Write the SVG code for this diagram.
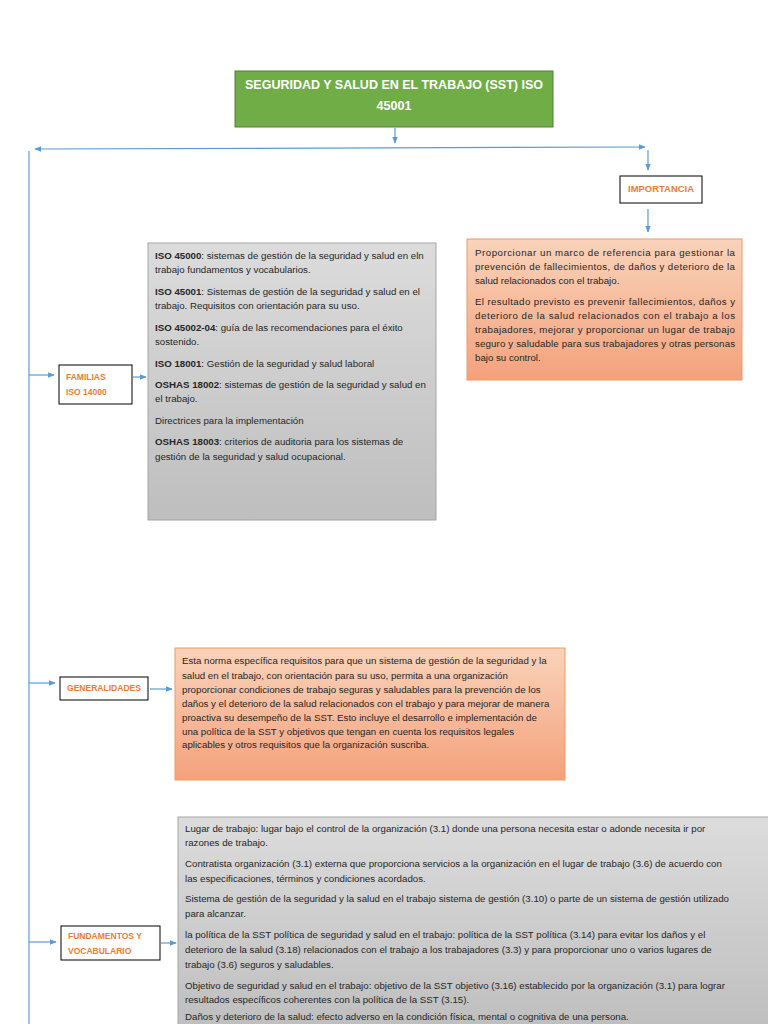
<svg xmlns="http://www.w3.org/2000/svg" width="768" height="1024" viewBox="0 0 768 1024">
<defs>
<linearGradient id="gOr" x1="0" y1="0" x2="0" y2="1"><stop offset="0" stop-color="#F9D3BA"/><stop offset="1" stop-color="#F4A17C"/></linearGradient>
<linearGradient id="gGr" x1="0" y1="0" x2="0" y2="1"><stop offset="0" stop-color="#DCDCDC"/><stop offset="1" stop-color="#BEBEBE"/></linearGradient>
<marker id="ar" viewBox="0 0 10 10" refX="9" refY="5" markerWidth="6" markerHeight="6" orient="auto-start-reverse"><path d="M0,1 L10,5 L0,9 z" fill="#5B9BD5"/></marker>
<style>
.t{font-family:"Liberation Sans",Arial,sans-serif;font-size:9.7px;fill:#262626}
.b{font-weight:bold}
.lbl{font-family:"Liberation Sans",Arial,sans-serif;font-size:8.5px;font-weight:bold;fill:#ED7D31}
.c{fill:none;stroke:#5B9BD5;stroke-width:1.2}
.lb{fill:#fff;stroke:#000;stroke-width:1}
.or{fill:url(#gOr);stroke:#ED9A6A;stroke-width:1}
.gr{fill:url(#gGr);stroke:#A5A5A5;stroke-width:1}
</style>
</defs>
<rect width="768" height="1024" fill="#fff"/>
<g id="connectors">
<line class="c" x1="395" y1="128" x2="395" y2="143" marker-end="url(#ar)"/>
<line class="c" x1="35" y1="149" x2="645" y2="147" marker-start="url(#ar)" marker-end="url(#ar)"/>
<line class="c" x1="29" y1="151" x2="29" y2="1024"/>
<line class="c" x1="648" y1="150" x2="648" y2="170" marker-end="url(#ar)"/>
<line class="c" x1="648" y1="209" x2="648" y2="232" marker-end="url(#ar)"/>
<line class="c" x1="29" y1="375" x2="54" y2="375" marker-end="url(#ar)"/>
<line class="c" x1="133" y1="377" x2="146" y2="377" marker-end="url(#ar)"/>
<line class="c" x1="29" y1="683" x2="55" y2="683" marker-end="url(#ar)"/>
<line class="c" x1="150" y1="689" x2="172" y2="689" marker-end="url(#ar)"/>
<line class="c" x1="29" y1="942" x2="56" y2="942" marker-end="url(#ar)"/>
<line class="c" x1="161" y1="943" x2="176" y2="943" marker-end="url(#ar)"/>
</g>
<g id="title">
<rect x="235" y="71" width="318" height="56" fill="#70AD47" stroke="#507E32" stroke-width="1"/>
<text x="394" y="89" text-anchor="middle" font-family="Liberation Sans, Arial, sans-serif" font-size="12.5" font-weight="bold" fill="#fff">SEGURIDAD Y SALUD EN EL TRABAJO (SST) ISO</text>
<text x="394" y="110" text-anchor="middle" font-family="Liberation Sans, Arial, sans-serif" font-size="12.5" font-weight="bold" fill="#fff">45001</text>
</g>
<g id="importancia">
<rect class="lb" x="620" y="176" width="82" height="27"/>
<text class="lbl" x="661" y="192" text-anchor="middle" textLength="66" lengthAdjust="spacingAndGlyphs">IMPORTANCIA</text>
</g>
<g id="importancia-texto">
<rect class="or" x="467" y="239" width="275" height="141"/>
<text class="t" x="475" y="256" textLength="260" lengthAdjust="spacing">Proporcionar un marco de referencia para gestionar la</text>
<text class="t" x="475" y="270" textLength="260" lengthAdjust="spacing">prevención de fallecimientos, de daños y deterioro de la</text>
<text class="t" x="475" y="284">salud relacionados con el trabajo.</text>
<text class="t" x="475" y="305" textLength="260" lengthAdjust="spacing">El resultado previsto es prevenir fallecimientos, daños y</text>
<text class="t" x="475" y="319" textLength="260" lengthAdjust="spacing">deterioro de la salud relacionados con el trabajo a los</text>
<text class="t" x="475" y="333" textLength="260" lengthAdjust="spacing">trabajadores,  mejorar y proporcionar un lugar de trabajo</text>
<text class="t" x="475" y="347" textLength="260" lengthAdjust="spacing">seguro  y saludable para sus trabajadores y otras personas</text>
<text class="t" x="475" y="361">bajo su control.</text>
</g>
<g id="familias">
<rect class="lb" x="59" y="365" width="73" height="39"/>
<text class="lbl" x="66" y="380">FAMILIAS</text>
<text class="lbl" x="66" y="395">ISO 14000</text>
</g>
<g id="familias-texto">
<rect class="gr" x="148" y="243" width="288" height="277"/>
<text class="t" x="155" y="259"><tspan class="b">ISO 45000</tspan>: sistemas de gestión de la seguridad y salud en eln</text>
<text class="t" x="155" y="273">trabajo fundamentos y vocabularios.</text>
<text class="t" x="155" y="295"><tspan class="b">ISO 45001</tspan>: Sistemas de gestión de la seguridad y salud en el</text>
<text class="t" x="155" y="309">trabajo. Requisitos con orientación para su uso.</text>
<text class="t" x="155" y="331"><tspan class="b">ISO 45002-04</tspan>: guía de las recomendaciones para el éxito</text>
<text class="t" x="155" y="345">sostenido.</text>
<text class="t" x="155" y="367"><tspan class="b">ISO 18001</tspan>: Gestión de la  seguridad y salud laboral</text>
<text class="t" x="155" y="388"><tspan class="b">OSHAS 18002</tspan>: sistemas de gestión de la seguridad y salud en</text>
<text class="t" x="155" y="402">el trabajo.</text>
<text class="t" x="155" y="424">Directrices para la implementación</text>
<text class="t" x="155" y="445"><tspan class="b">OSHAS 18003</tspan>: criterios de auditoria para los sistemas de</text>
<text class="t" x="155" y="460">gestión de la seguridad y salud ocupacional.</text>
</g>
<g id="generalidades">
<rect class="lb" x="60" y="677" width="88" height="23"/>
<text class="lbl" x="104" y="691" text-anchor="middle" textLength="74" lengthAdjust="spacingAndGlyphs">GENERALIDADES</text>
</g>
<g id="generalidades-texto">
<rect class="or" x="175" y="648" width="390" height="132"/>
<text class="t" x="182" y="664">Esta norma específica  requisitos para que un sistema de gestión de la seguridad y la</text>
<text class="t" x="182" y="679">salud en el trabajo, con orientación para su uso, permita  a una organización</text>
<text class="t" x="182" y="693">proporcionar condiciones de trabajo seguras y saludables para la prevención de los</text>
<text class="t" x="182" y="707">daños y el deterioro  de la salud relacionados con el trabajo y para mejorar de manera</text>
<text class="t" x="182" y="721">proactiva  su desempeño de la SST. Esto incluye el desarrollo e implementación de</text>
<text class="t" x="182" y="735">una política de la SST y objetivos que tengan en cuenta los requisitos legales</text>
<text class="t" x="182" y="748">aplicables y otros requisitos que la organización suscriba.</text>
</g>
<g id="fundamentos">
<rect class="lb" x="61" y="926" width="99" height="34"/>
<text class="lbl" x="68" y="939">FUNDAMENTOS Y</text>
<text class="lbl" x="68" y="954">VOCABULARIO</text>
</g>
<g id="fundamentos-texto">
<rect class="gr" x="178" y="817" width="592" height="215"/>
<text class="t" x="185" y="832">Lugar de trabajo: lugar bajo el control de la organización (3.1) donde una persona necesita estar o adonde necesita ir por</text>
<text class="t" x="185" y="846">razones de trabajo.</text>
<text class="t" x="185" y="867"> Contratista organización (3.1) externa que proporciona servicios a la organización en el lugar de trabajo (3.6) de acuerdo con</text>
<text class="t" x="185" y="882">las especificaciones, términos y condiciones acordados.</text>
<text class="t" x="185" y="902"> Sistema de gestión de la seguridad y la salud en el trabajo sistema de gestión (3.10) o parte de un sistema de gestión utilizado</text>
<text class="t" x="185" y="917">para alcanzar.</text>
<text class="t" x="185" y="938"> la política de la SST política de seguridad y salud en el trabajo: política de la SST política (3.14) para evitar los daños y el</text>
<text class="t" x="185" y="953">deterioro de la salud (3.18) relacionados con el trabajo a los trabajadores (3.3) y para proporcionar uno o varios lugares de</text>
<text class="t" x="185" y="968">trabajo (3.6) seguros y saludables.</text>
<text class="t" x="185" y="989"> Objetivo de seguridad y salud en el trabajo: objetivo de la SST objetivo (3.16) establecido por la organización (3.1) para lograr</text>
<text class="t" x="185" y="1003">resultados específicos coherentes con la política de la SST (3.15).</text>
<text class="t" x="185" y="1020"> Daños y deterioro de la salud: efecto adverso en la condición física, mental o cognitiva de una persona.</text>
</g>
</svg>
